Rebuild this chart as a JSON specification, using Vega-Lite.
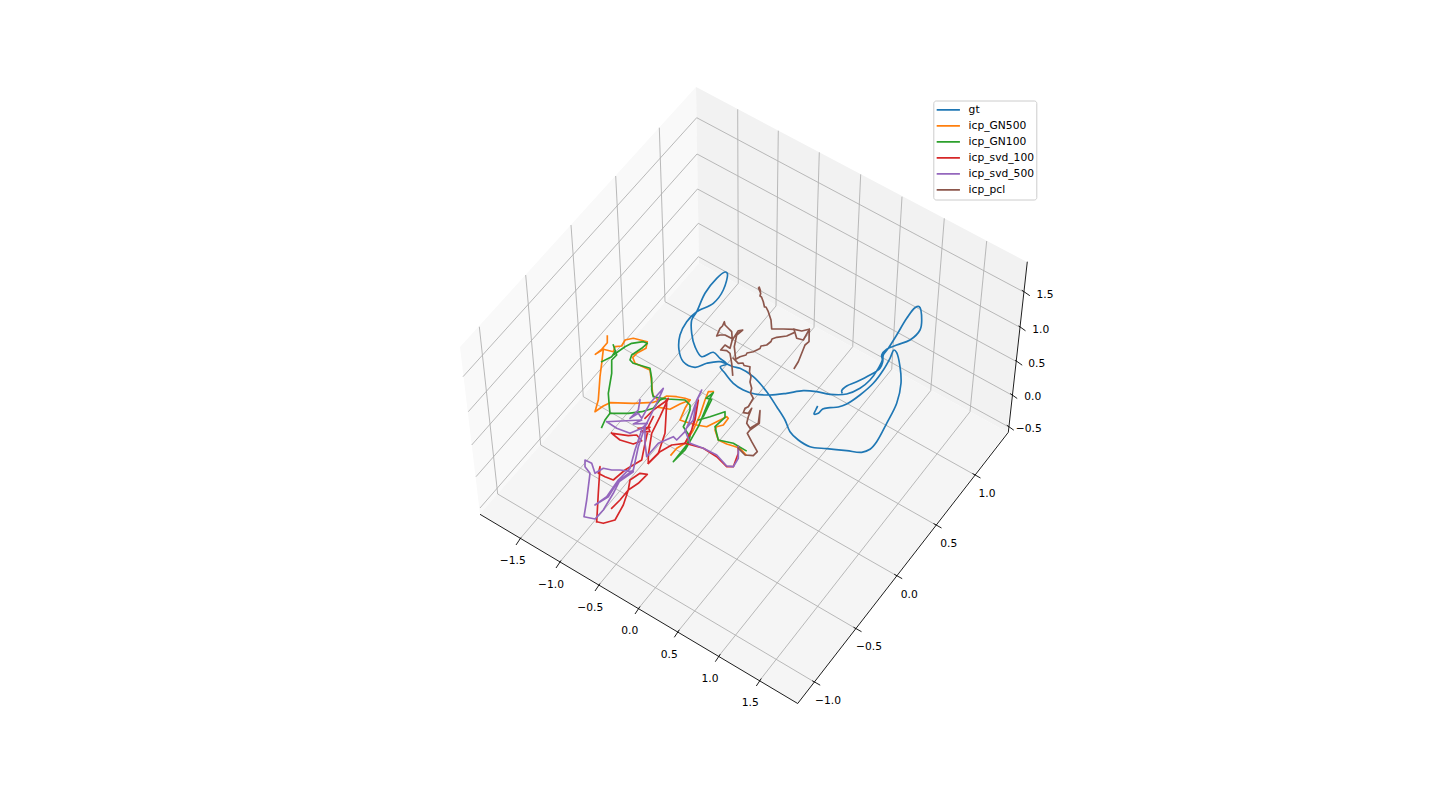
{"$schema":"https://vega.github.io/schema/vega-lite/v6.json","width":1440,"height":793,"padding":0,"autosize":{"type":"none"},"background":"white","config":{"view":{"stroke":null},"legend":{"labelFont":"DejaVu Sans","labelFontSize":10.7,"labelColor":"#000000","symbolType":"stroke","symbolSize":100,"symbolStrokeWidth":1.67,"rowPadding":0,"clipHeight":15.9,"padding":1.5,"labelOffset":8.8,"labelLimit":200,"fillColor":"#ffffff","strokeColor":"#cccccc","cornerRadius":2.5}},
"datasets":{
"panes":[
{"pane":"left","x":460,"top":347,"bottom":347},{"pane":"left","x":480,"top":325,"bottom":514},{"pane":"left","x":696,"top":87,"bottom":266.4},{"pane":"left","x":699,"top":263,"bottom":263},
{"pane":"right","x":696,"top":87,"bottom":87},{"pane":"right","x":699,"top":88.6,"bottom":263},{"pane":"right","x":1007,"top":251.4,"bottom":432},{"pane":"right","x":1027,"top":262,"bottom":262},
{"pane":"floor","x":480,"top":514,"bottom":514},{"pane":"floor","x":699,"top":263,"bottom":644.5},{"pane":"floor","x":798,"top":317.3,"bottom":703.5},{"pane":"floor","x":1007,"top":432,"bottom":432}],
"grid":[
{"g":"z1","x":480,"y":508},{"g":"z1","x":698.3,"y":256.7},{"g":"z1","x":1008.3,"y":426.7},
{"g":"z2","x":476,"y":476.7},{"g":"z2","x":698.3,"y":223.3},{"g":"z2","x":1011.7,"y":395},
{"g":"z3","x":471.7,"y":445},{"g":"z3","x":697.5,"y":189},{"g":"z3","x":1016.7,"y":361.7},
{"g":"z4","x":468.3,"y":411.7},{"g":"z4","x":697,"y":154},{"g":"z4","x":1020,"y":327.3},
{"g":"z5","x":463,"y":376.7},{"g":"z5","x":696.7,"y":117.7},{"g":"z5","x":1023.3,"y":291.7},
{"g":"y1","x":479.3,"y":326.7},{"g":"y1","x":497.7,"y":494},{"g":"y1","x":814.7,"y":682.2},
{"g":"y2","x":525.7,"y":275},{"g":"y2","x":540.7,"y":445},{"g":"y2","x":856,"y":628.7},
{"g":"y3","x":571,"y":225},{"g":"y3","x":583.3,"y":396.7},{"g":"y3","x":896.7,"y":575.7},
{"g":"y4","x":615.7,"y":176},{"g":"y4","x":624.5,"y":349},{"g":"y4","x":936,"y":525},
{"g":"y5","x":659.3,"y":127.7},{"g":"y5","x":665,"y":301.7},{"g":"y5","x":975,"y":475},
{"g":"x1","x":519,"y":540},{"g":"x1","x":738.3,"y":283.3},{"g":"x1","x":737.7,"y":109.3},
{"g":"x2","x":559,"y":563},{"g":"x2","x":776,"y":306},{"g":"x2","x":778.3,"y":130.7},
{"g":"x3","x":598,"y":586},{"g":"x3","x":814,"y":327.3},{"g":"x3","x":819.3,"y":152.3},
{"g":"x4","x":638,"y":609},{"g":"x4","x":852.7,"y":346.7},{"g":"x4","x":860.7,"y":174.3},
{"g":"x5","x":677.3,"y":632.3},{"g":"x5","x":891.7,"y":369.3},{"g":"x5","x":902,"y":196.7},
{"g":"x6","x":718.3,"y":656.7},{"g":"x6","x":930.7,"y":390.7},{"g":"x6","x":944.3,"y":218.3},
{"g":"x7","x":759.3,"y":681},{"g":"x7","x":970,"y":411.7},{"g":"x7","x":986.7,"y":241}],
"axes":[
{"g":"ax","x":480,"y":514.3},{"g":"ax","x":797.7,"y":703.5},{"g":"ax","x":1008.3,"y":432.3},{"g":"ax","x":1027.3,"y":261.7},
{"g":"tx1","x":516,"y":545},{"g":"tx1","x":521,"y":537.5},
{"g":"tx2","x":556,"y":568},{"g":"tx2","x":561,"y":560.5},
{"g":"tx3","x":595,"y":591},{"g":"tx3","x":600,"y":583.5},
{"g":"tx4","x":635,"y":614},{"g":"tx4","x":640,"y":606.5},
{"g":"tx5","x":674.3,"y":637.3},{"g":"tx5","x":679.3,"y":629.8},
{"g":"tx6","x":715.3,"y":661.7},{"g":"tx6","x":720.3,"y":654.2},
{"g":"tx7","x":756.3,"y":686},{"g":"tx7","x":761.3,"y":678.5},
{"g":"ty1","x":812.2,"y":680.7},{"g":"ty1","x":820.2,"y":685.2},
{"g":"ty2","x":853.5,"y":627.2},{"g":"ty2","x":861.5,"y":631.7},
{"g":"ty3","x":894.2,"y":574.2},{"g":"ty3","x":902.2,"y":578.7},
{"g":"ty4","x":933.5,"y":523.5},{"g":"ty4","x":941.5,"y":528},
{"g":"ty5","x":972.5,"y":473.5},{"g":"ty5","x":980.5,"y":478},
{"g":"tz1","x":1006.8,"y":425.2},{"g":"tz1","x":1013.8,"y":430.2},
{"g":"tz2","x":1010.2,"y":393.5},{"g":"tz2","x":1017.2,"y":398.5},
{"g":"tz3","x":1015.2,"y":360.2},{"g":"tz3","x":1022.2,"y":365.2},
{"g":"tz4","x":1018.5,"y":325.8},{"g":"tz4","x":1025.5,"y":330.8},
{"g":"tz5","x":1021.8,"y":290.2},{"g":"tz5","x":1029.8,"y":295.7}],
"labels":[
{"t":"−1.5","x":512.7,"y":560.3},{"t":"−1.0","x":551,"y":584},{"t":"−0.5","x":590.3,"y":607},{"t":"0.0","x":629.7,"y":630.3},{"t":"0.5","x":669.3,"y":654},{"t":"1.0","x":710,"y":678.3},{"t":"1.5","x":750.3,"y":702.3},
{"t":"−1.0","x":828,"y":700},{"t":"−0.5","x":869,"y":646.3},{"t":"0.0","x":909.3,"y":594.3},{"t":"0.5","x":948.7,"y":543},{"t":"1.0","x":987,"y":493},
{"t":"−0.5","x":1028.7,"y":428.3},{"t":"0.0","x":1032.7,"y":395.7},{"t":"0.5","x":1036.7,"y":363},{"t":"1.0","x":1040.7,"y":329},{"t":"1.5","x":1045,"y":294}],
"paths":[
{"s":"gt","p":"a","x":817.7,"y":406},{"s":"gt","p":"a","x":815.7,"y":410},{"s":"gt","p":"a","x":814,"y":414},{"s":"gt","p":"a","x":818.3,"y":413.3},{"s":"gt","p":"a","x":822.7,"y":409},{"s":"gt","p":"a","x":830,"y":407.7},{"s":"gt","p":"a","x":838.3,"y":407},{"s":"gt","p":"a","x":846.7,"y":404},{"s":"gt","p":"a","x":860,"y":395},{"s":"gt","p":"a","x":873.3,"y":383.3},{"s":"gt","p":"a","x":883.3,"y":370},{"s":"gt","p":"a","x":890,"y":358.3},{"s":"gt","p":"a","x":894,"y":350},{"s":"gt","p":"a","x":896.7,"y":352.7},{"s":"gt","p":"a","x":900,"y":366.7},{"s":"gt","p":"a","x":901,"y":383.3},{"s":"gt","p":"a","x":896.7,"y":403.3},{"s":"gt","p":"a","x":886.7,"y":423.3},{"s":"gt","p":"a","x":876.7,"y":441.7},{"s":"gt","p":"a","x":870,"y":449.3},{"s":"gt","p":"a","x":861.7,"y":452.3},{"s":"gt","p":"a","x":846.7,"y":450.7},{"s":"gt","p":"a","x":826.7,"y":448.7},{"s":"gt","p":"a","x":810,"y":446.7},{"s":"gt","p":"a","x":798.3,"y":440},{"s":"gt","p":"a","x":790,"y":431.7},{"s":"gt","p":"a","x":785,"y":420},{"s":"gt","p":"a","x":776.7,"y":406.7},{"s":"gt","p":"a","x":766.7,"y":391.7},{"s":"gt","p":"a","x":753.3,"y":376.7},{"s":"gt","p":"a","x":740,"y":368.3},{"s":"gt","p":"a","x":733.3,"y":366.7},{"s":"gt","p":"a","x":720,"y":361.7},{"s":"gt","p":"a","x":706.7,"y":363.3},{"s":"gt","p":"a","x":695,"y":367.3},{"s":"gt","p":"a","x":683.3,"y":361.7},{"s":"gt","p":"a","x":679,"y":350},{"s":"gt","p":"a","x":680,"y":335},{"s":"gt","p":"a","x":686.7,"y":321.7},{"s":"gt","p":"a","x":696.7,"y":311.7},{"s":"gt","p":"a","x":713.3,"y":303.3},{"s":"gt","p":"a","x":723.3,"y":290},{"s":"gt","p":"a","x":727.3,"y":273.3},{"s":"gt","p":"a","x":725,"y":272},{"s":"gt","p":"a","x":716.7,"y":278.3},{"s":"gt","p":"a","x":705,"y":293.3},{"s":"gt","p":"a","x":696.7,"y":311.7},{"s":"gt","p":"a","x":691.7,"y":320},{"s":"gt","p":"a","x":691.7,"y":333.3},{"s":"gt","p":"a","x":695,"y":346.7},{"s":"gt","p":"a","x":701.7,"y":356.7},{"s":"gt","p":"a","x":713.3,"y":352.3},{"s":"gt","p":"a","x":720,"y":358.3},{"s":"gt","p":"a","x":726.7,"y":364},{"s":"gt","p":"a","x":720.3,"y":366.7},{"s":"gt","p":"a","x":725,"y":373.3},{"s":"gt","p":"a","x":733.3,"y":383.3},{"s":"gt","p":"a","x":743.3,"y":390},{"s":"gt","p":"a","x":755,"y":394},{"s":"gt","p":"a","x":770,"y":395},{"s":"gt","p":"a","x":786.7,"y":393.3},{"s":"gt","p":"a","x":803.3,"y":390.7},{"s":"gt","p":"a","x":816.7,"y":391.7},{"s":"gt","p":"a","x":830,"y":394.3},{"s":"gt","p":"a","x":846.7,"y":394},{"s":"gt","p":"a","x":860,"y":388.3},{"s":"gt","p":"a","x":870,"y":380},{"s":"gt","p":"a","x":878.3,"y":368.3},{"s":"gt","p":"a","x":882.3,"y":360},{"s":"gt","p":"a","x":881.7,"y":355},{"s":"gt","p":"a","x":886.7,"y":349.3},{"s":"gt","p":"a","x":896.7,"y":345},{"s":"gt","p":"a","x":910,"y":340},{"s":"gt","p":"a","x":920,"y":330},{"s":"gt","p":"a","x":921.7,"y":320},{"s":"gt","p":"a","x":919.3,"y":306.7},{"s":"gt","p":"a","x":915,"y":307.7},{"s":"gt","p":"a","x":906.7,"y":318.3},{"s":"gt","p":"a","x":896.7,"y":335},{"s":"gt","p":"a","x":888.3,"y":348.3},{"s":"gt","p":"a","x":883.3,"y":355},{"s":"gt","p":"a","x":882.7,"y":361.7},{"s":"gt","p":"a","x":880,"y":368.3},{"s":"gt","p":"a","x":870,"y":375},{"s":"gt","p":"a","x":856.7,"y":381.7},{"s":"gt","p":"a","x":846.7,"y":386},{"s":"gt","p":"a","x":841.7,"y":390.7},{"s":"gt","p":"a","x":842.3,"y":393.3},
{"s":"icp_GN500","p":"a","x":607.3,"y":336},{"s":"icp_GN500","p":"a","x":607.3,"y":342.7},{"s":"icp_GN500","p":"a","x":601.7,"y":349.3},{"s":"icp_GN500","p":"a","x":595.3,"y":354.3},{"s":"icp_GN500","p":"a","x":603.3,"y":349.3},{"s":"icp_GN500","p":"a","x":613.3,"y":351.7},{"s":"icp_GN500","p":"a","x":615,"y":346.7},{"s":"icp_GN500","p":"a","x":621.7,"y":346},{"s":"icp_GN500","p":"a","x":625,"y":340},{"s":"icp_GN500","p":"a","x":633.3,"y":338.3},{"s":"icp_GN500","p":"a","x":647.3,"y":341.7},{"s":"icp_GN500","p":"a","x":646,"y":348.3},{"s":"icp_GN500","p":"a","x":636.7,"y":353.3},{"s":"icp_GN500","p":"a","x":632.7,"y":357.3},{"s":"icp_GN500","p":"a","x":635,"y":363.3},{"s":"icp_GN500","p":"a","x":650,"y":370},{"s":"icp_GN500","p":"a","x":651.7,"y":383.3},{"s":"icp_GN500","p":"a","x":652.7,"y":395},{"s":"icp_GN500","p":"a","x":657.3,"y":399.3},
{"s":"icp_GN500","p":"b","x":603.3,"y":349.3},{"s":"icp_GN500","p":"b","x":601.7,"y":363.3},{"s":"icp_GN500","p":"b","x":600,"y":376.7},{"s":"icp_GN500","p":"b","x":598.3,"y":400},{"s":"icp_GN500","p":"b","x":595,"y":411.7},{"s":"icp_GN500","p":"b","x":603.3,"y":406},{"s":"icp_GN500","p":"b","x":610,"y":402.7},{"s":"icp_GN500","p":"b","x":633.3,"y":403.3},{"s":"icp_GN500","p":"b","x":653.3,"y":402.3},{"s":"icp_GN500","p":"b","x":660,"y":400},{"s":"icp_GN500","p":"b","x":666.7,"y":396},{"s":"icp_GN500","p":"b","x":676.7,"y":396.7},{"s":"icp_GN500","p":"b","x":685,"y":398.3},{"s":"icp_GN500","p":"b","x":690,"y":400},{"s":"icp_GN500","p":"b","x":680,"y":404},{"s":"icp_GN500","p":"b","x":670,"y":409.3},{"s":"icp_GN500","p":"b","x":658.3,"y":407.3},
{"s":"icp_GN500","p":"c","x":690,"y":400},{"s":"icp_GN500","p":"c","x":685,"y":408.3},{"s":"icp_GN500","p":"c","x":680,"y":420},{"s":"icp_GN500","p":"c","x":685,"y":421.7},{"s":"icp_GN500","p":"c","x":696.7,"y":425},{"s":"icp_GN500","p":"c","x":706.7,"y":426.7},{"s":"icp_GN500","p":"c","x":716.7,"y":421.7},{"s":"icp_GN500","p":"c","x":726.7,"y":416.7},{"s":"icp_GN500","p":"c","x":728.3,"y":418.3},{"s":"icp_GN500","p":"c","x":723.3,"y":425},{"s":"icp_GN500","p":"c","x":716.7,"y":426.7},{"s":"icp_GN500","p":"c","x":715,"y":430},{"s":"icp_GN500","p":"c","x":718.3,"y":440},{"s":"icp_GN500","p":"c","x":726.7,"y":444},{"s":"icp_GN500","p":"c","x":733.3,"y":446},{"s":"icp_GN500","p":"c","x":740,"y":448.3},{"s":"icp_GN500","p":"c","x":746,"y":455},
{"s":"icp_GN500","p":"d","x":713.3,"y":391.7},{"s":"icp_GN500","p":"d","x":708.3,"y":391.7},{"s":"icp_GN500","p":"d","x":705,"y":400},{"s":"icp_GN500","p":"d","x":700,"y":415},{"s":"icp_GN500","p":"d","x":693.3,"y":430},{"s":"icp_GN500","p":"d","x":685,"y":443.3},{"s":"icp_GN500","p":"d","x":676.7,"y":448.3},{"s":"icp_GN500","p":"d","x":671,"y":455},
{"s":"icp_GN100","p":"a","x":613.3,"y":345},{"s":"icp_GN100","p":"a","x":615,"y":350},{"s":"icp_GN100","p":"a","x":616.7,"y":355},{"s":"icp_GN100","p":"a","x":611.7,"y":360},{"s":"icp_GN100","p":"a","x":611.7,"y":373.3},{"s":"icp_GN100","p":"a","x":608.3,"y":393.3},{"s":"icp_GN100","p":"a","x":609.3,"y":406.7},{"s":"icp_GN100","p":"a","x":610,"y":413.3},{"s":"icp_GN100","p":"a","x":605,"y":420},{"s":"icp_GN100","p":"a","x":601.7,"y":427.3},
{"s":"icp_GN100","p":"b","x":610,"y":413.3},{"s":"icp_GN100","p":"b","x":628.3,"y":413.3},{"s":"icp_GN100","p":"b","x":641.7,"y":411.7},{"s":"icp_GN100","p":"b","x":653.3,"y":408.3},{"s":"icp_GN100","p":"b","x":660,"y":400},{"s":"icp_GN100","p":"b","x":665,"y":398.3},
{"s":"icp_GN100","p":"c","x":601.7,"y":361.7},{"s":"icp_GN100","p":"c","x":611.7,"y":356.7},{"s":"icp_GN100","p":"c","x":615,"y":351.7},{"s":"icp_GN100","p":"c","x":613.3,"y":355},{"s":"icp_GN100","p":"c","x":625,"y":346.7},{"s":"icp_GN100","p":"c","x":631.7,"y":343.3},{"s":"icp_GN100","p":"c","x":643.3,"y":341.7},{"s":"icp_GN100","p":"c","x":647.3,"y":343.3},{"s":"icp_GN100","p":"c","x":641.7,"y":348.3},{"s":"icp_GN100","p":"c","x":631.7,"y":355},{"s":"icp_GN100","p":"c","x":630,"y":360},{"s":"icp_GN100","p":"c","x":633.3,"y":363.3},{"s":"icp_GN100","p":"c","x":650,"y":368.3},{"s":"icp_GN100","p":"c","x":651.7,"y":378.3},{"s":"icp_GN100","p":"c","x":651.7,"y":390},{"s":"icp_GN100","p":"c","x":653.3,"y":396.7},{"s":"icp_GN100","p":"c","x":666.7,"y":399},{"s":"icp_GN100","p":"c","x":685,"y":400},{"s":"icp_GN100","p":"c","x":690,"y":405},{"s":"icp_GN100","p":"c","x":690,"y":410},{"s":"icp_GN100","p":"c","x":685,"y":423.3},{"s":"icp_GN100","p":"c","x":683.3,"y":426.7},{"s":"icp_GN100","p":"c","x":690,"y":436.7},{"s":"icp_GN100","p":"c","x":686.7,"y":445},{"s":"icp_GN100","p":"c","x":673.3,"y":461.7},{"s":"icp_GN100","p":"c","x":685,"y":450},{"s":"icp_GN100","p":"c","x":698.3,"y":426.7},{"s":"icp_GN100","p":"c","x":710,"y":398.3},{"s":"icp_GN100","p":"c","x":713.3,"y":392.7},{"s":"icp_GN100","p":"c","x":706,"y":398.3},{"s":"icp_GN100","p":"c","x":711.7,"y":399.3},{"s":"icp_GN100","p":"c","x":703.3,"y":416.7},
{"s":"icp_GN100","p":"d","x":698.3,"y":420},{"s":"icp_GN100","p":"d","x":710,"y":416.7},{"s":"icp_GN100","p":"d","x":725,"y":411.7},{"s":"icp_GN100","p":"d","x":725,"y":417.3},{"s":"icp_GN100","p":"d","x":715,"y":426.7},{"s":"icp_GN100","p":"d","x":718.3,"y":440},{"s":"icp_GN100","p":"d","x":733.3,"y":443.3},{"s":"icp_GN100","p":"d","x":746,"y":450.7},
{"s":"icp_svd_100","p":"a","x":611.7,"y":433.3},{"s":"icp_svd_100","p":"a","x":620,"y":440},{"s":"icp_svd_100","p":"a","x":633.3,"y":444},{"s":"icp_svd_100","p":"a","x":641.7,"y":440.7},{"s":"icp_svd_100","p":"a","x":636.7,"y":435},{"s":"icp_svd_100","p":"a","x":628.3,"y":435.7},{"s":"icp_svd_100","p":"a","x":611.7,"y":433.3},
{"s":"icp_svd_100","p":"b","x":638.3,"y":428.3},{"s":"icp_svd_100","p":"b","x":650,"y":427.3},{"s":"icp_svd_100","p":"b","x":640.7,"y":431.7},{"s":"icp_svd_100","p":"b","x":650,"y":431.7},{"s":"icp_svd_100","p":"b","x":648.3,"y":426.7},{"s":"icp_svd_100","p":"b","x":653.3,"y":416.7},
{"s":"icp_svd_100","p":"c","x":645,"y":418.3},{"s":"icp_svd_100","p":"c","x":653.3,"y":410},{"s":"icp_svd_100","p":"c","x":665,"y":401.7},{"s":"icp_svd_100","p":"c","x":668.3,"y":398.3},{"s":"icp_svd_100","p":"c","x":660,"y":416.7},{"s":"icp_svd_100","p":"c","x":651.7,"y":433.3},{"s":"icp_svd_100","p":"c","x":648.3,"y":455},{"s":"icp_svd_100","p":"c","x":648.3,"y":463.3},{"s":"icp_svd_100","p":"c","x":658.3,"y":453.3},{"s":"icp_svd_100","p":"c","x":665,"y":433.3},{"s":"icp_svd_100","p":"c","x":666.7,"y":403.3},
{"s":"icp_svd_100","p":"d","x":648.3,"y":463.3},{"s":"icp_svd_100","p":"d","x":660,"y":451.7},{"s":"icp_svd_100","p":"d","x":671.7,"y":445},{"s":"icp_svd_100","p":"d","x":685,"y":443.3},{"s":"icp_svd_100","p":"d","x":703.3,"y":448.3},{"s":"icp_svd_100","p":"d","x":716.7,"y":456.7},{"s":"icp_svd_100","p":"d","x":726.7,"y":466.7},{"s":"icp_svd_100","p":"d","x":733.3,"y":466.7},{"s":"icp_svd_100","p":"d","x":738.3,"y":453.3},{"s":"icp_svd_100","p":"d","x":738.3,"y":446.7},
{"s":"icp_svd_100","p":"e","x":685,"y":443.3},{"s":"icp_svd_100","p":"e","x":691.7,"y":430},{"s":"icp_svd_100","p":"e","x":695,"y":416.7},{"s":"icp_svd_100","p":"e","x":698.3,"y":400},{"s":"icp_svd_100","p":"e","x":695,"y":420},{"s":"icp_svd_100","p":"e","x":690,"y":435},
{"s":"icp_svd_100","p":"f","x":596.7,"y":521.7},{"s":"icp_svd_100","p":"f","x":598.3,"y":493.3},{"s":"icp_svd_100","p":"f","x":600,"y":466.7},{"s":"icp_svd_100","p":"f","x":598.3,"y":473.3},{"s":"icp_svd_100","p":"f","x":605,"y":476.7},{"s":"icp_svd_100","p":"f","x":613.3,"y":480},{"s":"icp_svd_100","p":"f","x":625,"y":470},{"s":"icp_svd_100","p":"f","x":633.3,"y":465},{"s":"icp_svd_100","p":"f","x":641.7,"y":460},{"s":"icp_svd_100","p":"f","x":645,"y":443.3},{"s":"icp_svd_100","p":"f","x":647.3,"y":433.3},
{"s":"icp_svd_100","p":"g","x":596.7,"y":521.7},{"s":"icp_svd_100","p":"g","x":603.3,"y":523.3},{"s":"icp_svd_100","p":"g","x":615,"y":520},{"s":"icp_svd_100","p":"g","x":623.3,"y":505},{"s":"icp_svd_100","p":"g","x":628.3,"y":490},{"s":"icp_svd_100","p":"g","x":630,"y":480},{"s":"icp_svd_100","p":"g","x":640,"y":473.3},{"s":"icp_svd_100","p":"g","x":647.3,"y":474.3},{"s":"icp_svd_100","p":"g","x":638.3,"y":483.3},{"s":"icp_svd_100","p":"g","x":628.3,"y":490},{"s":"icp_svd_100","p":"g","x":620,"y":500},{"s":"icp_svd_100","p":"g","x":611.7,"y":508.3},
{"s":"icp_svd_500","p":"a","x":640,"y":400},{"s":"icp_svd_500","p":"a","x":638.3,"y":410},{"s":"icp_svd_500","p":"a","x":630,"y":418.3},{"s":"icp_svd_500","p":"a","x":638.3,"y":413.3},{"s":"icp_svd_500","p":"a","x":641.7,"y":418.3},{"s":"icp_svd_500","p":"a","x":650,"y":403.3},{"s":"icp_svd_500","p":"a","x":663.3,"y":388.3},{"s":"icp_svd_500","p":"a","x":658.3,"y":400},{"s":"icp_svd_500","p":"a","x":645,"y":426.7},{"s":"icp_svd_500","p":"a","x":645,"y":443.3},{"s":"icp_svd_500","p":"a","x":646.7,"y":456.7},{"s":"icp_svd_500","p":"a","x":658.3,"y":443.3},{"s":"icp_svd_500","p":"a","x":673.3,"y":436.7},{"s":"icp_svd_500","p":"a","x":676.7,"y":440},{"s":"icp_svd_500","p":"a","x":685,"y":431.7},{"s":"icp_svd_500","p":"a","x":690,"y":420},{"s":"icp_svd_500","p":"a","x":695,"y":405},{"s":"icp_svd_500","p":"a","x":701.7,"y":390},{"s":"icp_svd_500","p":"a","x":696.7,"y":400},{"s":"icp_svd_500","p":"a","x":693.3,"y":420},{"s":"icp_svd_500","p":"a","x":685,"y":430},{"s":"icp_svd_500","p":"a","x":690,"y":443.3},{"s":"icp_svd_500","p":"a","x":703.3,"y":448.3},{"s":"icp_svd_500","p":"a","x":716.7,"y":455},{"s":"icp_svd_500","p":"a","x":726.7,"y":466},{"s":"icp_svd_500","p":"a","x":733.3,"y":466.7},{"s":"icp_svd_500","p":"a","x":738.3,"y":458.3},{"s":"icp_svd_500","p":"a","x":738.3,"y":446.7},
{"s":"icp_svd_500","p":"b","x":606.7,"y":421.7},{"s":"icp_svd_500","p":"b","x":616.7,"y":428.3},{"s":"icp_svd_500","p":"b","x":630,"y":433.3},{"s":"icp_svd_500","p":"b","x":641.7,"y":428.3},{"s":"icp_svd_500","p":"b","x":647.3,"y":423.3},{"s":"icp_svd_500","p":"b","x":633.3,"y":424},{"s":"icp_svd_500","p":"b","x":641.7,"y":420},{"s":"icp_svd_500","p":"b","x":606.7,"y":421.7},
{"s":"icp_svd_500","p":"c","x":641.7,"y":430},{"s":"icp_svd_500","p":"c","x":635,"y":450},{"s":"icp_svd_500","p":"c","x":630,"y":468.3},{"s":"icp_svd_500","p":"c","x":618.3,"y":480},{"s":"icp_svd_500","p":"c","x":606.7,"y":496.7},{"s":"icp_svd_500","p":"c","x":595,"y":505},{"s":"icp_svd_500","p":"c","x":608.3,"y":496.7},{"s":"icp_svd_500","p":"c","x":616.7,"y":483.3},{"s":"icp_svd_500","p":"c","x":633.3,"y":471.7},{"s":"icp_svd_500","p":"c","x":620,"y":470},{"s":"icp_svd_500","p":"c","x":611.7,"y":470},{"s":"icp_svd_500","p":"c","x":603.3,"y":468.3},{"s":"icp_svd_500","p":"c","x":595,"y":473.3},{"s":"icp_svd_500","p":"c","x":591.7,"y":463.3},{"s":"icp_svd_500","p":"c","x":585,"y":460},{"s":"icp_svd_500","p":"c","x":585,"y":466.7},{"s":"icp_svd_500","p":"c","x":590,"y":473.3},{"s":"icp_svd_500","p":"c","x":586.7,"y":500},{"s":"icp_svd_500","p":"c","x":584,"y":516.7},{"s":"icp_svd_500","p":"c","x":595,"y":519},{"s":"icp_svd_500","p":"c","x":603.3,"y":510},{"s":"icp_svd_500","p":"c","x":613.3,"y":493.3},{"s":"icp_svd_500","p":"c","x":620,"y":480},{"s":"icp_svd_500","p":"c","x":633.3,"y":470},{"s":"icp_svd_500","p":"c","x":638.3,"y":446.7},{"s":"icp_svd_500","p":"c","x":645,"y":426.7},
{"s":"icp_pcl","p":"a","x":794.3,"y":368.3},{"s":"icp_pcl","p":"a","x":798.3,"y":361.7},{"s":"icp_pcl","p":"a","x":801.7,"y":353.3},{"s":"icp_pcl","p":"a","x":805,"y":345},{"s":"icp_pcl","p":"a","x":809,"y":341.7},{"s":"icp_pcl","p":"a","x":809.3,"y":329.3},{"s":"icp_pcl","p":"a","x":803.3,"y":340},{"s":"icp_pcl","p":"a","x":796.7,"y":338.3},{"s":"icp_pcl","p":"a","x":794,"y":329.3},{"s":"icp_pcl","p":"a","x":783.3,"y":329},{"s":"icp_pcl","p":"a","x":771.7,"y":329},{"s":"icp_pcl","p":"a","x":771,"y":320},{"s":"icp_pcl","p":"a","x":768.3,"y":311.7},{"s":"icp_pcl","p":"a","x":766,"y":307},{"s":"icp_pcl","p":"a","x":764.5,"y":307},{"s":"icp_pcl","p":"a","x":763.3,"y":301.7},{"s":"icp_pcl","p":"a","x":761.5,"y":297},{"s":"icp_pcl","p":"a","x":760,"y":296},{"s":"icp_pcl","p":"a","x":760.7,"y":293.3},{"s":"icp_pcl","p":"a","x":758.5,"y":288},{"s":"icp_pcl","p":"a","x":760.5,"y":291},{"s":"icp_pcl","p":"a","x":759.3,"y":287.3},
{"s":"icp_pcl","p":"b","x":809.3,"y":329.3},{"s":"icp_pcl","p":"b","x":801.7,"y":331},{"s":"icp_pcl","p":"b","x":794,"y":329.3},
{"s":"icp_pcl","p":"c","x":794,"y":332.7},{"s":"icp_pcl","p":"c","x":786.7,"y":336},{"s":"icp_pcl","p":"c","x":776.7,"y":337.3},{"s":"icp_pcl","p":"c","x":772,"y":339},{"s":"icp_pcl","p":"c","x":771,"y":341.5},{"s":"icp_pcl","p":"c","x":766.7,"y":345},{"s":"icp_pcl","p":"c","x":761,"y":346},{"s":"icp_pcl","p":"c","x":760,"y":348.5},{"s":"icp_pcl","p":"c","x":753.3,"y":351.7},{"s":"icp_pcl","p":"c","x":747,"y":353},{"s":"icp_pcl","p":"c","x":746,"y":355},{"s":"icp_pcl","p":"c","x":740,"y":356.7},{"s":"icp_pcl","p":"c","x":735.7,"y":359.3},{"s":"icp_pcl","p":"c","x":734.3,"y":346.7},{"s":"icp_pcl","p":"c","x":736.7,"y":335},{"s":"icp_pcl","p":"c","x":742.7,"y":330},{"s":"icp_pcl","p":"c","x":738.3,"y":330.7},{"s":"icp_pcl","p":"c","x":732.3,"y":340},{"s":"icp_pcl","p":"c","x":730,"y":348.3},{"s":"icp_pcl","p":"c","x":725,"y":345},{"s":"icp_pcl","p":"c","x":720.7,"y":350},{"s":"icp_pcl","p":"c","x":726.7,"y":350.7},{"s":"icp_pcl","p":"c","x":730,"y":353.3},{"s":"icp_pcl","p":"c","x":731.7,"y":363.3},{"s":"icp_pcl","p":"c","x":732.7,"y":375},
{"s":"icp_pcl","p":"d","x":732.3,"y":340},{"s":"icp_pcl","p":"d","x":731.7,"y":331.7},{"s":"icp_pcl","p":"d","x":728,"y":328},{"s":"icp_pcl","p":"d","x":725,"y":325},{"s":"icp_pcl","p":"d","x":724.3,"y":321.7},{"s":"icp_pcl","p":"d","x":722.5,"y":326},{"s":"icp_pcl","p":"d","x":720,"y":328.3},{"s":"icp_pcl","p":"d","x":716.7,"y":336},{"s":"icp_pcl","p":"d","x":720,"y":335},{"s":"icp_pcl","p":"d","x":725,"y":335},{"s":"icp_pcl","p":"d","x":731.7,"y":338.3},
{"s":"icp_pcl","p":"e","x":733.3,"y":358.3},{"s":"icp_pcl","p":"e","x":738.3,"y":363.3},{"s":"icp_pcl","p":"e","x":743,"y":363},{"s":"icp_pcl","p":"e","x":744,"y":365.5},{"s":"icp_pcl","p":"e","x":750,"y":366.7},{"s":"icp_pcl","p":"e","x":749.5,"y":372},{"s":"icp_pcl","p":"e","x":751,"y":376.7},{"s":"icp_pcl","p":"e","x":750,"y":382},{"s":"icp_pcl","p":"e","x":751.7,"y":388.3},{"s":"icp_pcl","p":"e","x":750.5,"y":393},{"s":"icp_pcl","p":"e","x":753.3,"y":398.3},{"s":"icp_pcl","p":"e","x":748.3,"y":406.7},{"s":"icp_pcl","p":"e","x":745,"y":408.3},{"s":"icp_pcl","p":"e","x":743.3,"y":412.7},{"s":"icp_pcl","p":"e","x":748.3,"y":413.3},{"s":"icp_pcl","p":"e","x":751.7,"y":408.3},{"s":"icp_pcl","p":"e","x":748.3,"y":416.7},{"s":"icp_pcl","p":"e","x":746.7,"y":423.3},{"s":"icp_pcl","p":"e","x":750,"y":428.3},{"s":"icp_pcl","p":"e","x":758.3,"y":423.3},{"s":"icp_pcl","p":"e","x":760,"y":410.7},{"s":"icp_pcl","p":"e","x":759.3,"y":423.3},{"s":"icp_pcl","p":"e","x":750,"y":430},{"s":"icp_pcl","p":"e","x":747.3,"y":433.3},{"s":"icp_pcl","p":"e","x":751.7,"y":441.7},{"s":"icp_pcl","p":"e","x":757.3,"y":451.7},{"s":"icp_pcl","p":"e","x":753.3,"y":455.7},{"s":"icp_pcl","p":"e","x":745,"y":455},{"s":"icp_pcl","p":"e","x":738.3,"y":448.3}
]},
"encoding":{"x":{"field":"x","type":"quantitative","scale":{"domain":[0,1440],"nice":false,"zero":false},"axis":null},"y":{"field":"y","type":"quantitative","scale":{"domain":[793,0],"nice":false,"zero":false},"axis":null}},
"layer":[
{"data":{"name":"panes"},"mark":{"type":"area","opacity":1,"interpolate":"linear","line":false},"encoding":{"y":{"field":"top","type":"quantitative"},"y2":{"field":"bottom"},"fill":{"field":"pane","type":"nominal","scale":{"domain":["left","right","floor"],"range":["#f9f9f9","#f2f2f2","#f5f5f5"]},"legend":null}}},
{"data":{"name":"grid"},"transform":[{"window":[{"op":"row_number","as":"i"}]}],"mark":{"type":"line","stroke":"#b0b0b0","strokeWidth":0.89},"encoding":{"detail":{"field":"g"},"order":{"field":"i","type":"quantitative"}}},
{"data":{"name":"paths"},"transform":[{"window":[{"op":"row_number","as":"i"}]},{"filter":"datum.s==='gt'"}],"mark":{"type":"line","interpolate":"catmull-rom","strokeWidth":1.67,"strokeJoin":"round"},"encoding":{"color":{"field":"s","type":"nominal","scale":{"domain":["gt","icp_GN500","icp_GN100","icp_svd_100","icp_svd_500","icp_pcl"],"range":["#1f77b4","#ff7f0e","#2ca02c","#d62728","#9467bd","#8c564b"]},"legend":{"title":null,"orient":"none","legendX":933.3,"legendY":100.5,"encode":{"symbols":{"update":{"size":{"value":540},"x":{"value":13.5}}}}}},"detail":{"field":"p"},"order":{"field":"i","type":"quantitative"}}},
{"data":{"name":"paths"},"transform":[{"window":[{"op":"row_number","as":"i"}]},{"filter":"datum.s!=='gt'"}],"mark":{"type":"line","strokeWidth":1.67,"strokeJoin":"round","strokeCap":"square"},"encoding":{"color":{"field":"s","type":"nominal"},"detail":{"field":"p"},"order":{"field":"i","type":"quantitative"}}},
{"data":{"name":"axes"},"transform":[{"window":[{"op":"row_number","as":"i"}]}],"mark":{"type":"line","stroke":"#000000","strokeWidth":0.89},"encoding":{"detail":{"field":"g"},"order":{"field":"i","type":"quantitative"}}},
{"data":{"name":"labels"},"mark":{"type":"text","font":"DejaVu Sans","fontSize":10.7,"align":"center","baseline":"middle","dy":0.8,"color":"#000000"},"encoding":{"text":{"field":"t"}}}
]}
